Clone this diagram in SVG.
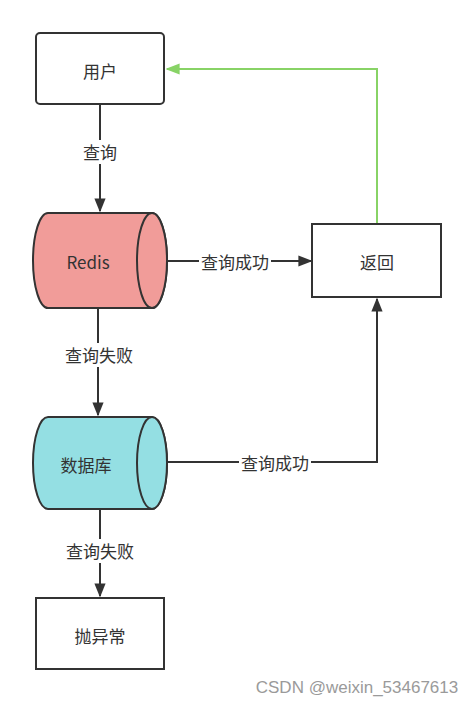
<svg xmlns="http://www.w3.org/2000/svg" width="474" height="703" viewBox="0 0 474 703">
<defs>
<marker id="ahg" viewBox="0 0 10 10" refX="9" refY="5" markerWidth="14" markerHeight="14" markerUnits="userSpaceOnUse" orient="auto"><path d="M0,1 L10,5 L0,9 Z" fill="#88d366"/></marker>
<marker id="ahb" viewBox="0 0 10 10" refX="9" refY="5" markerWidth="14" markerHeight="14" markerUnits="userSpaceOnUse" orient="auto"><path d="M0,1 L10,5 L0,9 Z" fill="#333"/></marker>
</defs>
<style>
text{font-family:"Noto Sans CJK SC","Liberation Sans",sans-serif;font-size:17px;fill:#333;text-anchor:middle;dominant-baseline:central}
.box{fill:#fff;stroke:#333;stroke-width:2}
.edge{fill:none;stroke:#333;stroke-width:2}
.lbl{fill:#fff}
</style>
<rect width="474" height="703" fill="#fff"/>
<g id="connectors">
<path class="edge" d="M100,104 V211" marker-end="url(#ahb)"/>
<rect class="lbl" x="81" y="140" width="38" height="24"/>
<text x="100" y="151">查询</text>
<path class="edge" d="M167,261 H311" marker-end="url(#ahb)"/>
<rect class="lbl" x="199" y="250" width="72" height="22"/>
<text x="235" y="261">查询成功</text>
<path fill="none" stroke="#88d366" stroke-width="2" d="M377,224 V69 H167" marker-end="url(#ahg)"/>
<path class="edge" d="M98,308 V415" marker-end="url(#ahb)"/>
<rect class="lbl" x="63" y="343" width="72" height="24"/>
<text x="99" y="354">查询失败</text>
<path class="edge" d="M167,462 H377 V299" marker-end="url(#ahb)"/>
<rect class="lbl" x="239" y="451" width="72" height="22"/>
<text x="275" y="462">查询成功</text>
<path class="edge" d="M100,509 V596" marker-end="url(#ahb)"/>
<rect class="lbl" x="64" y="539" width="72" height="24"/>
<text x="100" y="550">查询失败</text>
</g>
<g id="user">
<rect class="box" x="36" y="33" width="128" height="71" rx="4"/>
<text x="100" y="70">用户</text>
</g>
<g id="redis">
<path d="M48,213 H152 A15,47.5 0 0 1 152,308 H48 A15,47.5 0 0 1 48,213 Z" fill="#f19c99" stroke="#333" stroke-width="2"/>
<ellipse cx="152" cy="260.5" rx="15" ry="47.5" fill="#f19c99" stroke="#333" stroke-width="2"/>
<text x="88" y="261">Redis</text>
</g>
<g id="return">
<rect class="box" x="312" y="224" width="129" height="73"/>
<text x="377" y="261">返回</text>
</g>
<g id="db">
<path d="M48,417 H152 A15,46 0 0 1 152,509 H48 A15,46 0 0 1 48,417 Z" fill="#94dfe3" stroke="#333" stroke-width="2"/>
<ellipse cx="152" cy="463" rx="15" ry="46" fill="#94dfe3" stroke="#333" stroke-width="2"/>
<text x="86" y="464">数据库</text>
</g>
<g id="exception">
<rect class="box" x="36" y="598" width="128" height="71"/>
<text x="100" y="635">抛异常</text>
</g>
<text x="357" y="687" style="font-family:'Liberation Sans',sans-serif;font-size:17px;fill:#9a9a9a">CSDN @weixin_53467613</text>
</svg>
